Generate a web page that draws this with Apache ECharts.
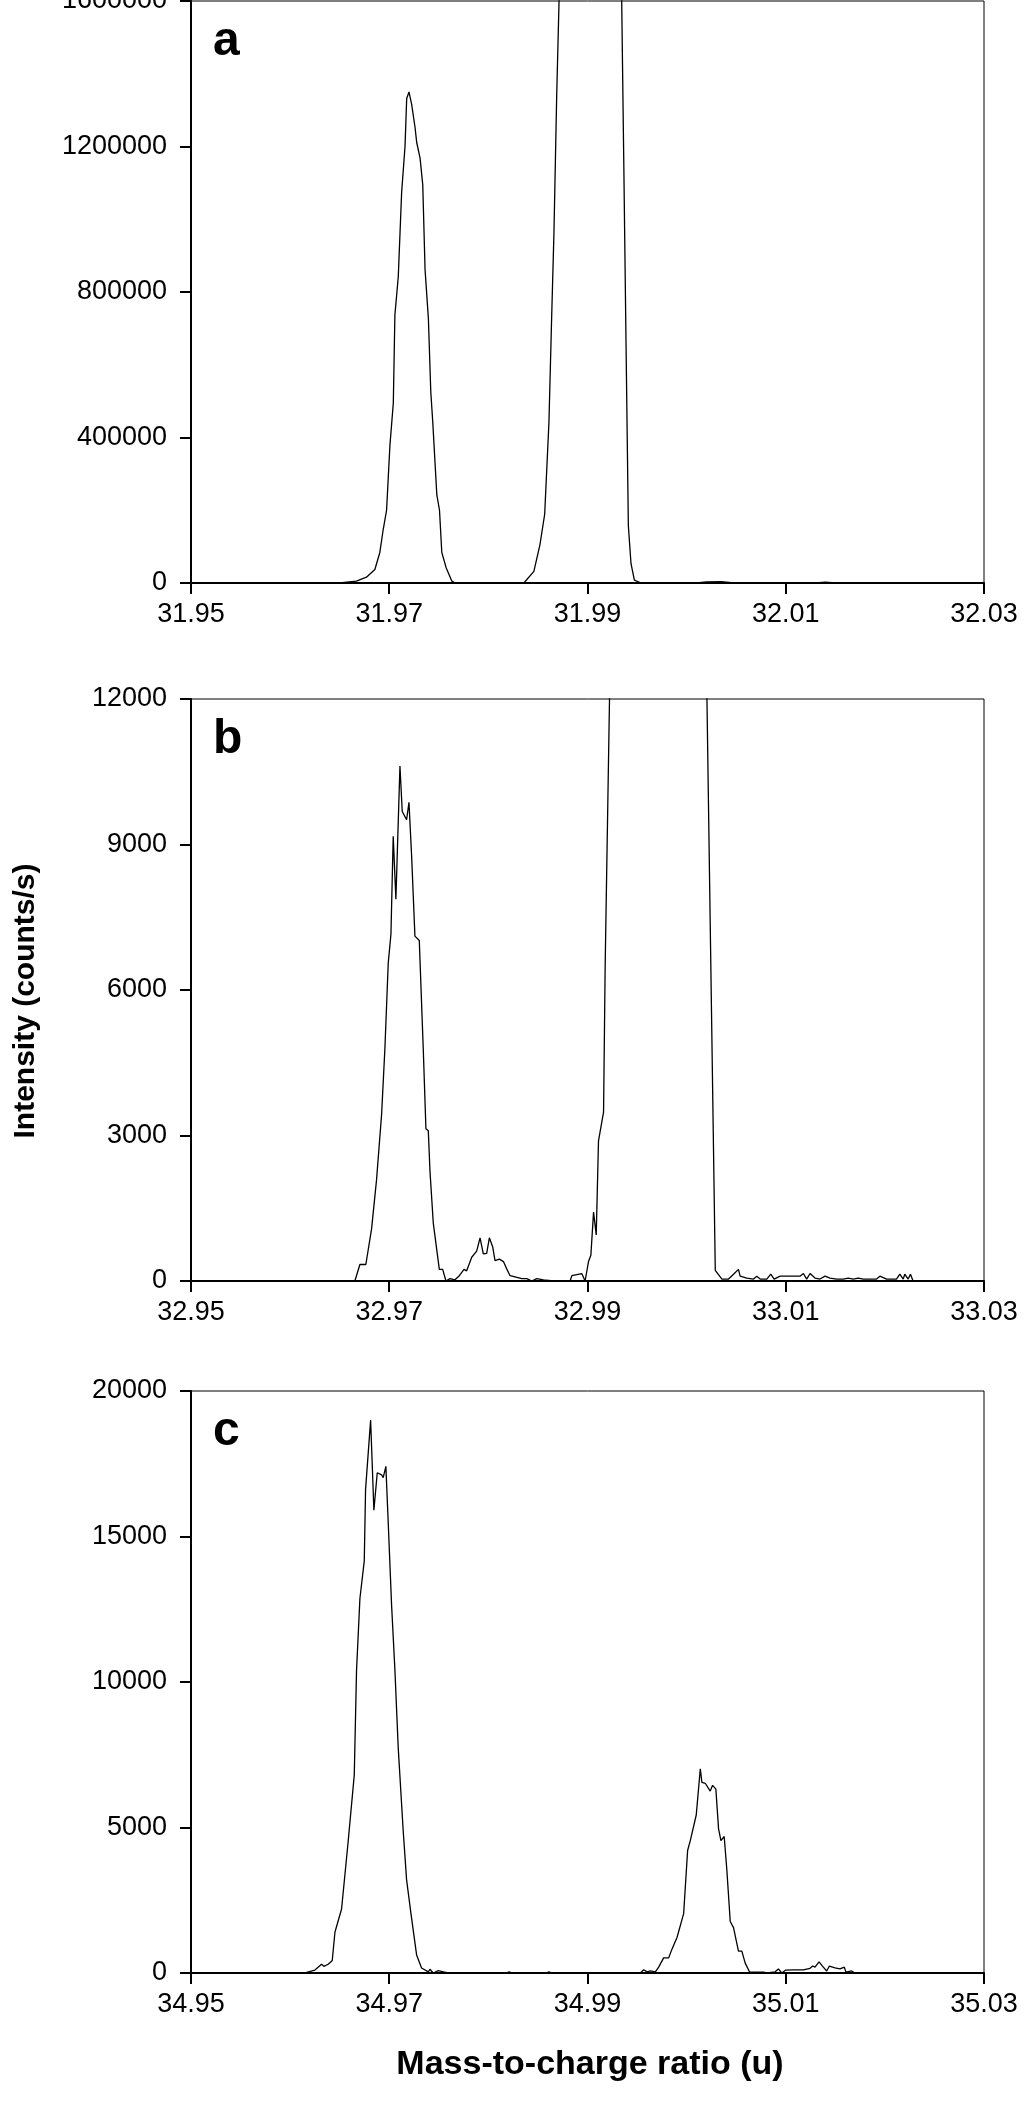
<!DOCTYPE html>
<html>
<head>
<meta charset="utf-8">
<title>Mass spectra a-c</title>
<script src="https://cdn.jsdelivr.net/npm/echarts@6/dist/echarts.min.js"></script>
<style>
  html, body { margin: 0; padding: 0; background: #fff; }
  #chart { width: 1025px; height: 2103px; }
</style>
</head>
<body>
<div id="chart"></div>
<script>
// panel a: m/z 32
const ticksXA = [31.95, 31.97, 31.99, 32.01, 32.03];
const ticksYA = [0, 400000, 800000, 1200000, 1600000];
const massA = [31.95, 31.965, 31.96669, 31.9677, 31.96855, 31.96905, 31.96939, 31.96973, 31.97007, 31.97041,
  31.97057, 31.97091, 31.97125, 31.97159, 31.97176, 31.97199, 31.97226, 31.9726, 31.97277, 31.97311,
  31.97338, 31.97361, 31.97395, 31.97419, 31.97439, 31.9748, 31.97507, 31.9753, 31.97574, 31.97632,
  31.97666, 31.98358, 31.98459, 31.9852, 31.98568, 31.98611, 31.98635, 31.98662, 31.98689, 31.98713,
  31.9876, 31.989, 31.991, 31.993, 31.99345, 31.99365, 31.99389, 31.99412, 31.99439, 31.99473,
  31.99541, 32.001, 32.002, 32.0035, 32.0048, 32.013, 32.014, 32.015, 32.03];
const intensityA = [0, 0, 5000, 16000, 37000, 84000, 147000, 200000, 379000, 495000,
  737000, 842000, 1074000, 1200000, 1332000, 1350000, 1316000, 1253000, 1211000, 1168000,
  1095000, 863000, 726000, 526000, 442000, 242000, 200000, 84000, 42000, 5000,
  0, 0, 32000, 105000, 189000, 442000, 695000, 968000, 1337000, 1600000,
  2050000, 2600000, 2700000, 2500000, 1600000, 1179000, 653000, 158000, 53000, 8000,
  0, 0, 3000, 4000, 0, 0, 2000, 0, 0];

// panel b: m/z 33
const ticksXB = [32.95, 32.97, 32.99, 33.01, 33.03];
const ticksYB = [0, 3000, 6000, 9000, 12000];
const massB = [32.95, 32.96653, 32.96704, 32.96764, 32.96822, 32.96872, 32.96923, 32.96956, 32.9699, 32.97017,
  32.9704, 32.97067, 32.97108, 32.97131, 32.97175, 32.97199, 32.97226, 32.97259, 32.97303, 32.97343,
  32.9737, 32.97394, 32.97411, 32.97444, 32.97505, 32.97539, 32.97572, 32.97613, 32.97663, 32.97707,
  32.97754, 32.97781, 32.97832, 32.97882, 32.97916, 32.97949, 32.97983, 32.9801, 32.98044, 32.98067,
  32.98111, 32.98152, 32.98185, 32.98219, 32.98269, 32.98337, 32.98387, 32.98438, 32.98488, 32.98556,
  32.98657, 32.98825, 32.98842, 32.98943, 32.98976, 32.9901, 32.99034, 32.99061, 32.99088, 32.99111,
  32.99162, 32.99178, 32.99222, 32.9935, 32.9975, 33.001, 33.00205, 33.00289, 33.00356, 33.00423,
  33.00473, 33.0049, 33.00523, 33.0054, 33.00607, 33.00674, 33.00708, 33.00742, 33.00809, 33.00849,
  33.00883, 33.00943, 33.0101, 33.01144, 33.01178, 33.01211, 33.01245, 33.01295, 33.01346, 33.01396,
  33.01446, 33.01513, 33.0158, 33.01631, 33.01681, 33.01732, 33.01782, 33.01916, 33.0195, 33.02017,
  33.02117, 33.02151, 33.02185, 33.02201, 33.02235, 33.02258, 33.02285, 33.03];
const intensityB = [0, 0, 340, 340, 1080, 2090, 3440, 4790, 6560, 7150,
  9170, 7870, 10620, 9680, 9510, 9870, 8750, 7110, 7020, 4790,
  3140, 3100, 2260, 1200, 240, 240, 0, 50, 25, 110,
  240, 210, 490, 615, 890, 560, 570, 890, 700, 420,
  450, 400, 250, 110, 85, 50, 50, 0, 50, 25,
  0, 0, 110, 150, 0, 400, 530, 1420, 950, 2890,
  3480, 6470, 12000, 45000, 60000, 45000, 12000, 220, 40, 40,
  140, 100, 240, 100, 60, 40, 100, 40, 40, 140,
  40, 100, 100, 100, 155, 40, 155, 60, 40, 100,
  60, 40, 40, 60, 40, 60, 40, 40, 100, 40,
  40, 140, 40, 140, 40, 140, 0, 0];

// panel c: m/z 35
const ticksXC = [34.95, 34.97, 34.99, 35.01, 35.03];
const ticksYC = [0, 5000, 10000, 15000, 20000];
const massC = [34.95, 34.96098, 34.96166, 34.9625, 34.96317, 34.96341, 34.96384, 34.96425, 34.96452, 34.96519,
  34.96585, 34.96647, 34.9667, 34.96704, 34.96748, 34.96761, 34.96812, 34.96845, 34.96879, 34.96923,
  34.96939, 34.96966, 34.9699, 34.97024, 34.97057, 34.97091, 34.97141, 34.97175, 34.97219, 34.97276,
  34.97326, 34.97394, 34.9741, 34.97444, 34.97495, 34.97545, 34.97595, 34.9818, 34.9821, 34.9824,
  34.9858, 34.9861, 34.9864, 34.99533, 34.99567, 34.99601, 34.99634, 34.99685, 34.99718, 34.99768,
  34.99819, 34.99852, 34.99903, 34.9997, 35.0001, 35.00037, 35.00097, 35.00138, 35.00154, 35.00188,
  35.00238, 35.00262, 35.00295, 35.00322, 35.00346, 35.00379, 35.00406, 35.0044, 35.00473, 35.00523,
  35.00557, 35.00591, 35.00634, 35.00708, 35.00775, 35.00809, 35.00893, 35.00926, 35.0096, 35.01,
  35.01077, 35.01178, 35.01245, 35.01272, 35.01295, 35.01336, 35.01379, 35.01413, 35.0144, 35.01497,
  35.01547, 35.01591, 35.01607, 35.01664, 35.01698, 35.03];
const intensityC = [0, 0, 20, 100, 300, 230, 300, 430, 1400, 2200,
  4500, 6800, 10400, 12870, 14160, 16610, 19000, 15900, 17190, 17120,
  17020, 17410, 15450, 12610, 10420, 7710, 4870, 3200, 2040, 620,
  170, 40, 130, 0, 80, 40, 0, 0, 40, 0,
  0, 40, 0, 0, 110, 40, 70, 40, 200, 520,
  520, 820, 1220, 2040, 4210, 4550, 5430, 7020, 6550, 6520,
  6250, 6450, 6320, 4960, 4550, 4690, 3530, 1770, 1560, 750,
  750, 340, 40, 30, 30, 0, 40, 140, 0, 100,
  110, 110, 160, 240, 200, 380, 200, 70, 240, 180,
  140, 200, 30, 70, 0, 0];

const panelLabels = ["a", "b", "c"];
const xAxisTitle = "Mass-to-charge ratio (u)";
const yAxisTitle = "Intensity (counts/s)";

const FONT = "'Liberation Sans', Arial, sans-serif";
const gridTops = [1, 699, 1391];
const PLOT_H = 582;

const panels = [
  { xTicks: ticksXA, yTicks: ticksYA, mass: massA, intensity: intensityA },
  { xTicks: ticksXB, yTicks: ticksYB, mass: massB, intensity: intensityB },
  { xTicks: ticksXC, yTicks: ticksYC, mass: massC, intensity: intensityC }
];

const axisLine = { show: true, onZero: false, lineStyle: { color: "#000", width: 2 } };
const axisTick = { show: true, inside: false, length: 11, lineStyle: { color: "#000", width: 2 } };

const chart = echarts.init(document.getElementById("chart"), null, { renderer: "canvas" });

const option = {
  animation: false,
  backgroundColor: "#fff",
  grid: panels.map((p, i) => ({
    left: 191,
    width: 793,
    top: gridTops[i],
    height: PLOT_H,
    containLabel: false,
    outerBoundsMode: "none",
    show: true,
    borderColor: "#000",
    borderWidth: 1,
    backgroundColor: "transparent"
  })),
  xAxis: panels.map((p, i) => ({
    type: "value",
    gridIndex: i,
    min: p.xTicks[0],
    max: p.xTicks[p.xTicks.length - 1],
    interval: p.xTicks[1] - p.xTicks[0],
    axisLine,
    axisTick,
    splitLine: { show: false },
    axisLabel: {
      color: "#000",
      fontFamily: FONT,
      fontSize: 27,
      margin: 18,
      formatter: v => v.toFixed(2)
    }
  })),
  yAxis: panels.map((p, i) => ({
    type: "value",
    gridIndex: i,
    min: p.yTicks[0],
    max: p.yTicks[p.yTicks.length - 1],
    interval: p.yTicks[1] - p.yTicks[0],
    axisLine,
    axisTick,
    splitLine: { show: false },
    axisLabel: {
      color: "#000",
      fontFamily: FONT,
      fontSize: 27,
      margin: 24,
      formatter: v => String(Math.round(v))
    }
  })),
  series: panels.map((p, i) => ({
    type: "line",
    xAxisIndex: i,
    yAxisIndex: i,
    data: p.mass.map((m, k) => [m, p.intensity[k]]),
    showSymbol: false,
    clip: true,
    silent: true,
    lineStyle: { color: "#000", width: 1.3 }
  })),
  graphic: [
    ...panelLabels.map((t, i) => ({
      type: "text",
      x: 213,
      y: gridTops[i] + 41,
      style: { text: t, font: "bold 48px " + FONT, fill: "#000", align: "left", verticalAlign: "middle" }
    })),
    {
      type: "text",
      x: 26,
      y: 1001,
      rotation: Math.PI / 2,
      style: { text: yAxisTitle, font: "bold 30px " + FONT, fill: "#000", align: "center", verticalAlign: "middle" }
    },
    {
      type: "text",
      x: 590,
      y: 2065,
      style: { text: xAxisTitle, font: "bold 34px " + FONT, fill: "#000", align: "center", verticalAlign: "middle" }
    }
  ]
};

chart.setOption(option);
</script>
</body>
</html>
